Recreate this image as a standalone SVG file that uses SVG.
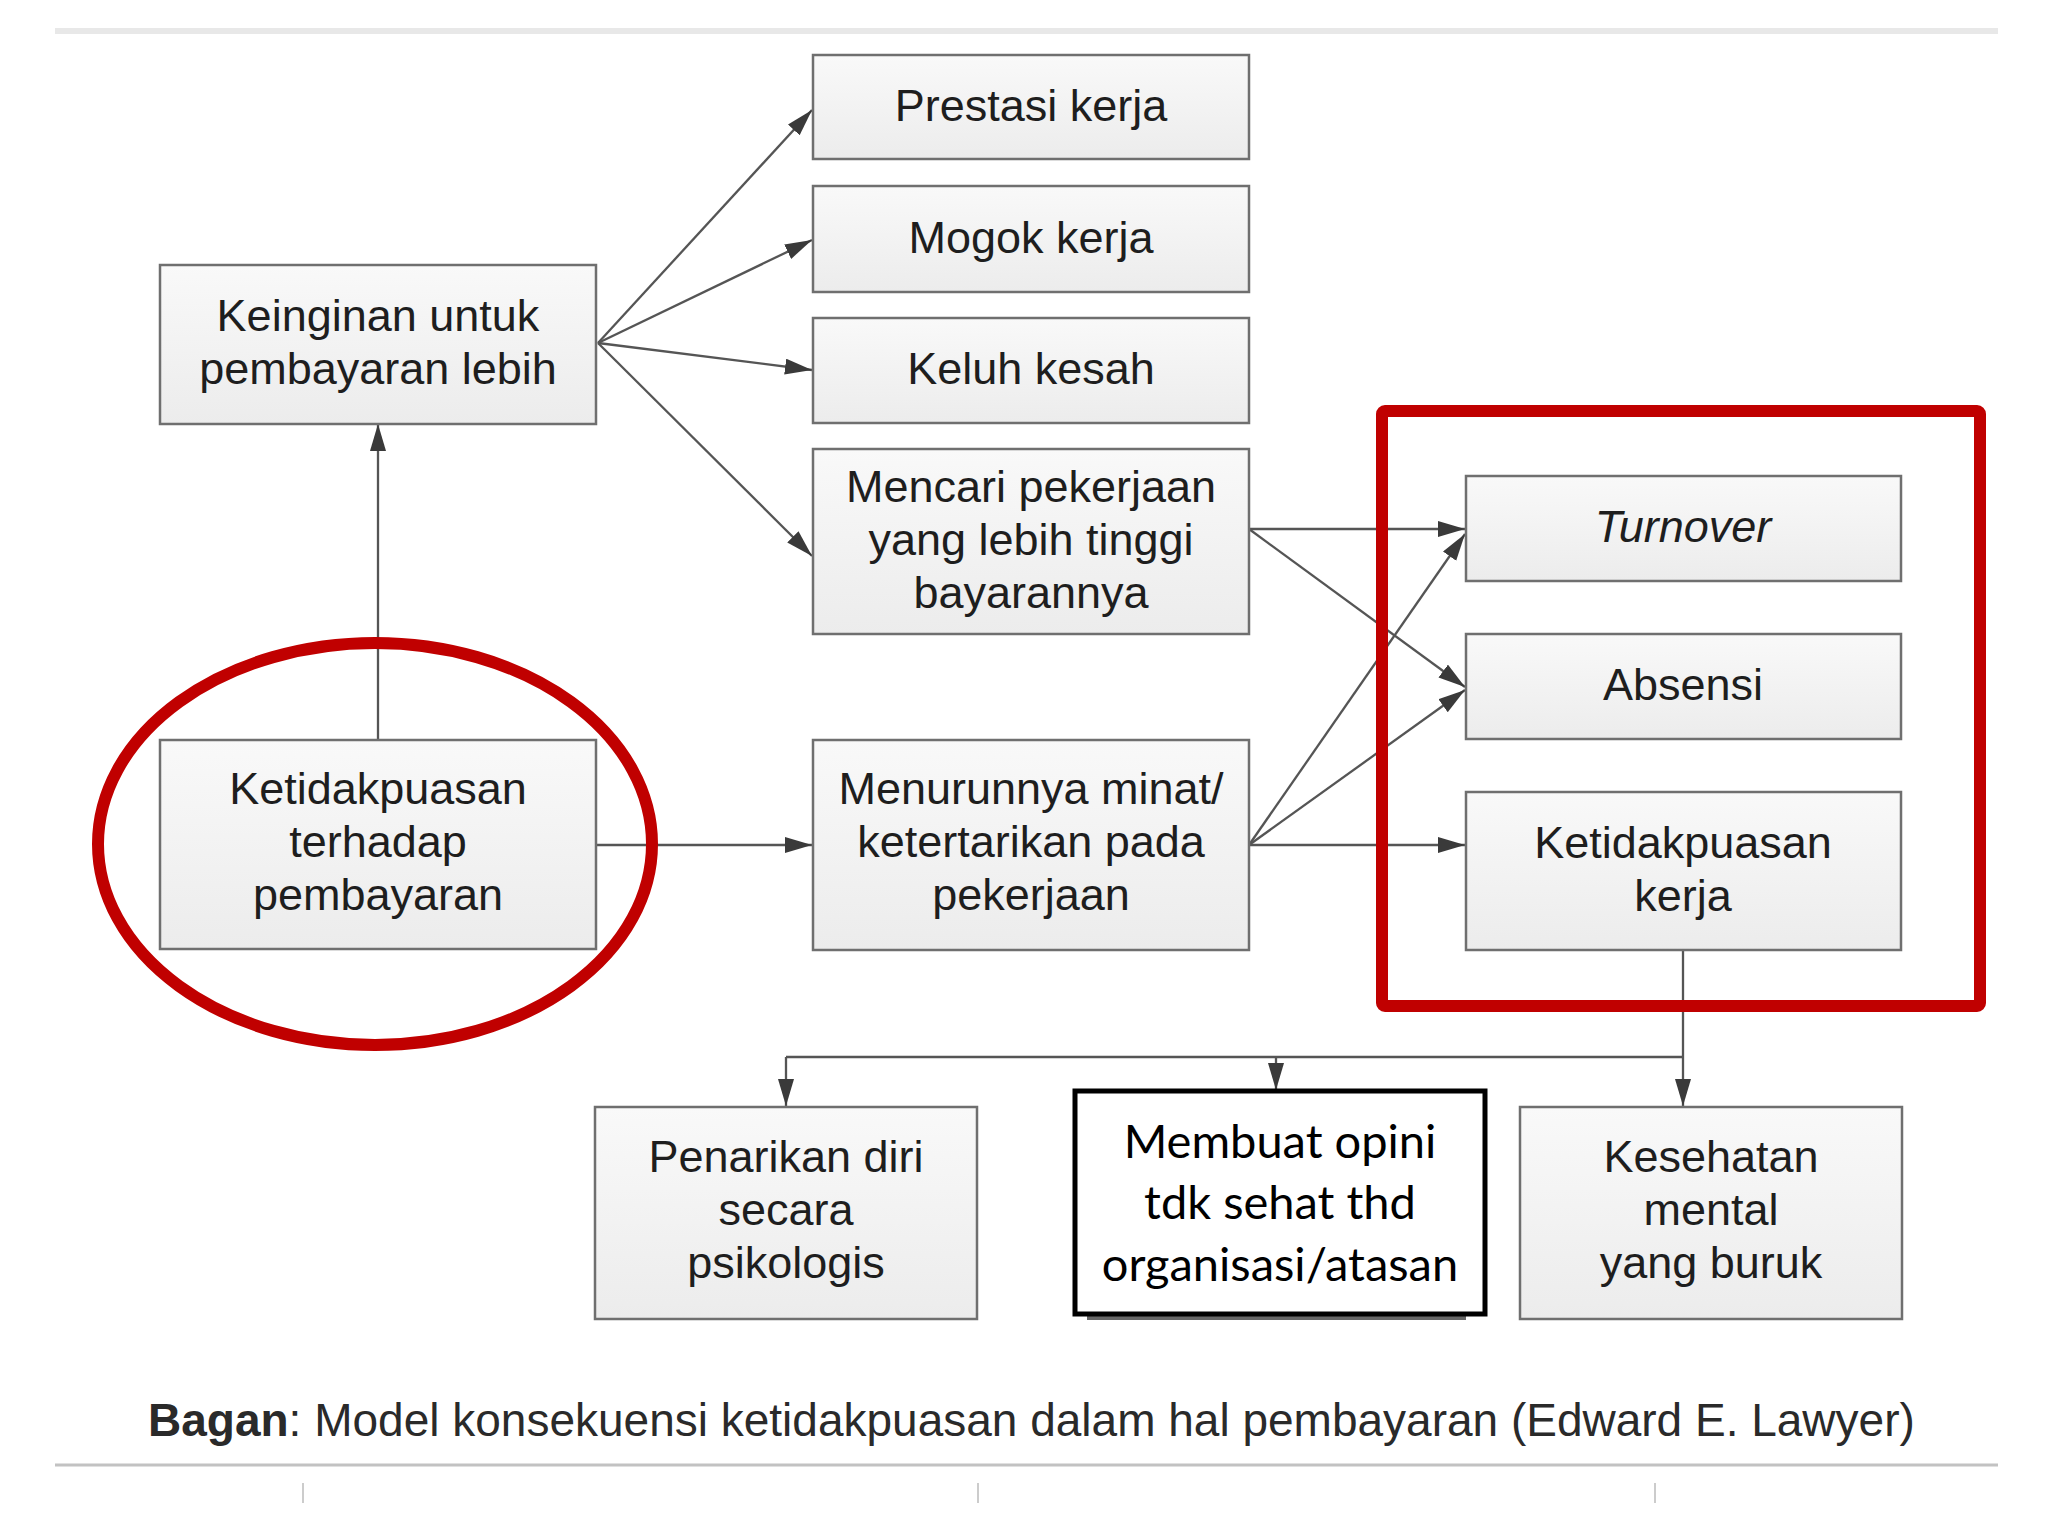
<svg xmlns="http://www.w3.org/2000/svg" width="2048" height="1536" viewBox="0 0 2048 1536">
<defs>
<linearGradient id="boxFill" x1="0" y1="0" x2="0" y2="1">
<stop offset="0" stop-color="#f9f9f9"/>
<stop offset="1" stop-color="#ececec"/>
</linearGradient>
<marker id="arr" markerUnits="userSpaceOnUse" markerWidth="28" markerHeight="18" refX="27" refY="8" orient="auto">
<path d="M0,0 L27,8 L0,16 z" fill="#3a3a3a"/>
</marker>
<style>
.box{fill:url(#boxFill);stroke:#6f6f6f;stroke-width:2.5}
.shadow{fill:#000;opacity:0.06}
.t{font-family:"Liberation Sans",Arial,sans-serif;font-size:45px;fill:#1e1e1e;text-anchor:middle}
.c{stroke:#555;stroke-width:2.3;fill:none}
.ca{stroke:#555;stroke-width:2.3;fill:none;marker-end:url(#arr)}
.red{fill:none;stroke:#c00000;stroke-width:12}
</style>
</defs>
<rect width="2048" height="1536" fill="#ffffff"/>
<line x1="55" y1="31" x2="1998" y2="31" stroke="#e8e8e8" stroke-width="6"/>
<line x1="55" y1="1465" x2="1998" y2="1465" stroke="#c2c2c2" stroke-width="3"/>
<g stroke="#cccccc" stroke-width="2">
<line x1="303" y1="1483" x2="303" y2="1503"/>
<line x1="978" y1="1483" x2="978" y2="1503"/>
<line x1="1655" y1="1483" x2="1655" y2="1503"/>
</g>

<g id="connectors">
<line class="ca" x1="378" y1="740" x2="378" y2="424"/>
<line class="ca" x1="598" y1="343" x2="812" y2="110"/>
<line class="ca" x1="598" y1="343" x2="812" y2="240"/>
<line class="ca" x1="598" y1="343" x2="812" y2="370"/>
<line class="ca" x1="598" y1="343" x2="812" y2="556"/>
<line class="ca" x1="596" y1="845" x2="812" y2="845"/>
<line class="ca" x1="1249" y1="529" x2="1465" y2="529"/>
<line class="ca" x1="1249" y1="529" x2="1465" y2="687"/>
<line class="ca" x1="1249" y1="845" x2="1465" y2="534"/>
<line class="ca" x1="1249" y1="845" x2="1465" y2="690"/>
<line class="ca" x1="1249" y1="845" x2="1465" y2="845"/>
<line class="ca" x1="1683" y1="950" x2="1683" y2="1106"/>
<line class="c" x1="786" y1="1057" x2="1683" y2="1057"/>
<line class="ca" x1="786" y1="1057" x2="786" y2="1106"/>
<line class="ca" x1="1276" y1="1057" x2="1276" y2="1090"/>
</g>

<g id="n-keinginan">
<rect class="box" x="160" y="265" width="436" height="159"/>
<text class="t" x="378" y="331">Keinginan untuk</text>
<text class="t" x="378" y="384">pembayaran lebih</text>
</g>
<g id="n-prestasi">
<rect class="box" x="813" y="55" width="436" height="104"/>
<text class="t" x="1031" y="121">Prestasi kerja</text>
</g>
<g id="n-mogok">
<rect class="box" x="813" y="186" width="436" height="106"/>
<text class="t" x="1031" y="253">Mogok kerja</text>
</g>
<g id="n-keluh">
<rect class="box" x="813" y="318" width="436" height="105"/>
<text class="t" x="1031" y="384">Keluh kesah</text>
</g>
<g id="n-mencari">
<rect class="box" x="813" y="449" width="436" height="185"/>
<text class="t" x="1031" y="502">Mencari pekerjaan</text>
<text class="t" x="1031" y="555">yang lebih tinggi</text>
<text class="t" x="1031" y="608">bayarannya</text>
</g>
<g id="n-ketidakpuasan-pembayaran">
<rect class="box" x="160" y="740" width="436" height="209"/>
<text class="t" x="378" y="804">Ketidakpuasan</text>
<text class="t" x="378" y="857">terhadap</text>
<text class="t" x="378" y="910">pembayaran</text>
</g>
<g id="n-menurunnya">
<rect class="box" x="813" y="740" width="436" height="210"/>
<text class="t" x="1031" y="804">Menurunnya minat/</text>
<text class="t" x="1031" y="857">ketertarikan pada</text>
<text class="t" x="1031" y="910">pekerjaan</text>
</g>
<g id="n-turnover">
<rect class="box" x="1466" y="476" width="435" height="105"/>
<text class="t" x="1683" y="542" font-style="italic">Turnover</text>
</g>
<g id="n-absensi">
<rect class="box" x="1466" y="634" width="435" height="105"/>
<text class="t" x="1683" y="700">Absensi</text>
</g>
<g id="n-ketidakpuasan-kerja">
<rect class="box" x="1466" y="792" width="435" height="158"/>
<text class="t" x="1683" y="858">Ketidakpuasan</text>
<text class="t" x="1683" y="911">kerja</text>
</g>
<g id="n-penarikan">
<rect class="box" x="595" y="1107" width="382" height="212"/>
<text class="t" x="786" y="1172">Penarikan diri</text>
<text class="t" x="786" y="1225">secara</text>
<text class="t" x="786" y="1278">psikologis</text>
</g>
<g id="n-membuat">
<line x1="1087" y1="1318" x2="1466" y2="1318" stroke="#666" stroke-width="4"/>
<rect x="1075" y="1091" width="410" height="223" fill="#ffffff" stroke="#000" stroke-width="5"/>
<g font-family="Lato,'Open Sans',sans-serif" font-size="47" fill="#000" text-anchor="middle">
<text x="1280" y="1158">Membuat opini</text>
<text x="1280" y="1219">tdk sehat thd</text>
<text x="1280" y="1281">organisasi/atasan</text>
</g>
</g>
<g id="n-kesehatan">
<rect class="box" x="1520" y="1107" width="382" height="212"/>
<text class="t" x="1711" y="1172">Kesehatan</text>
<text class="t" x="1711" y="1225">mental</text>
<text class="t" x="1711" y="1278">yang buruk</text>
</g>

<g id="highlights">
<ellipse class="red" cx="375" cy="844" rx="277" ry="201"/>
<rect class="red" x="1382" y="411" width="598" height="595" rx="3"/>
</g>

<text x="148" y="1436" font-family="'Liberation Sans',Arial,sans-serif" font-size="46" fill="#2a2a2a"><tspan font-weight="bold">Bagan</tspan>: Model konsekuensi ketidakpuasan dalam hal pembayaran (Edward E. Lawyer)</text>
</svg>
